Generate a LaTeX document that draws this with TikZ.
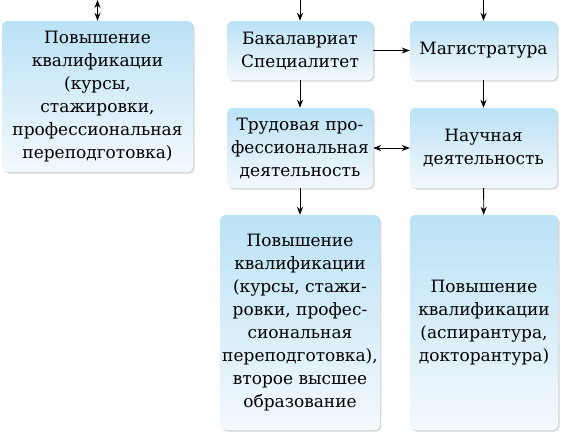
\documentclass[tikz,border=0pt]{standalone}
\usepackage{fontspec}
\setmainfont{DejaVu Serif}
\newfontfamily\boxfont{DejaVu Serif}
\usetikzlibrary{arrows.meta,shadows}
\definecolor{boxtop}{RGB}{186,226,246}
\definecolor{boxbot}{RGB}{244,249,253}
\tikzset{
    stage/.style={
        rounded corners=5pt,
        top color=boxtop,
        bottom color=boxbot,
        drop shadow={shadow xshift=1.5pt,shadow yshift=-1.5pt,opacity=.3},
        align=center,
        inner sep=2pt,
        font=\boxfont\fontsize{17}{23}\selectfont
    },
    link/.style={-{Stealth[length=8pt,width=6pt]}, thick},
    link2/.style={{Stealth[length=8pt,width=6pt]}-{Stealth[length=8pt,width=6pt]}, thick}
}

\begin{document}
\begin{tikzpicture}[x=1pt,y=-1pt]
  \useasboundingbox (0,0) rectangle (574,440);

  \node[stage, minimum width=191pt, minimum height=151pt] at (97.5,96.5) (Qual)
    {Повышение\\квалификации\\(курсы,\\стажировки,\\профессиональная\\переподготовка)};
  \node[stage, minimum width=146pt, minimum height=59pt] at (300,50.5) (Bach)
    {Бакалавриат\\Специалитет};
  \node[stage, minimum width=147pt, minimum height=59pt] at (483.5,50.5) (Mag)
    {Магистратура};
  \node[stage, minimum width=146pt, minimum height=80pt] at (300,148) (Work)
    {Трудовая про-\\фессиональная\\деятельность};
  \node[stage, minimum width=147pt, minimum height=80pt] at (483.5,148) (Sci)
    {Научная\\деятельность};
  \node[stage, minimum width=150pt, minimum height=215pt] at (300,322.5) (WorkQual)
    {Повышение\\квалификации\\(курсы, стажи-\\ровки, профес-\\сиональная\\переподготовка),\\второе высшее\\образование};
  \node[stage, minimum width=148pt, minimum height=215pt] at (484,322.5) (SciQual)
    {Повышение\\квалификации\\(аспирантура,\\докторантура)};

  \coordinate (inQ) at (97.5,0);
  \coordinate (inB) at (300,0);
  \coordinate (inM) at (483.5,0);

  \draw[link2] (inQ) -- (Qual);
  \draw[link] (inB) -- (Bach);
  \draw[link] (inM) -- (Mag);
  \draw[link] (Bach) -- (Mag);
  \draw[link] (Bach) -- (Work);
  \draw[link] (Mag) -- (Sci);
  \draw[link2] (Work) -- (Sci);
  \draw[link] (Work) -- (WorkQual);
  \draw[link] (Sci) -- (SciQual);

\end{tikzpicture}
\end{document}
